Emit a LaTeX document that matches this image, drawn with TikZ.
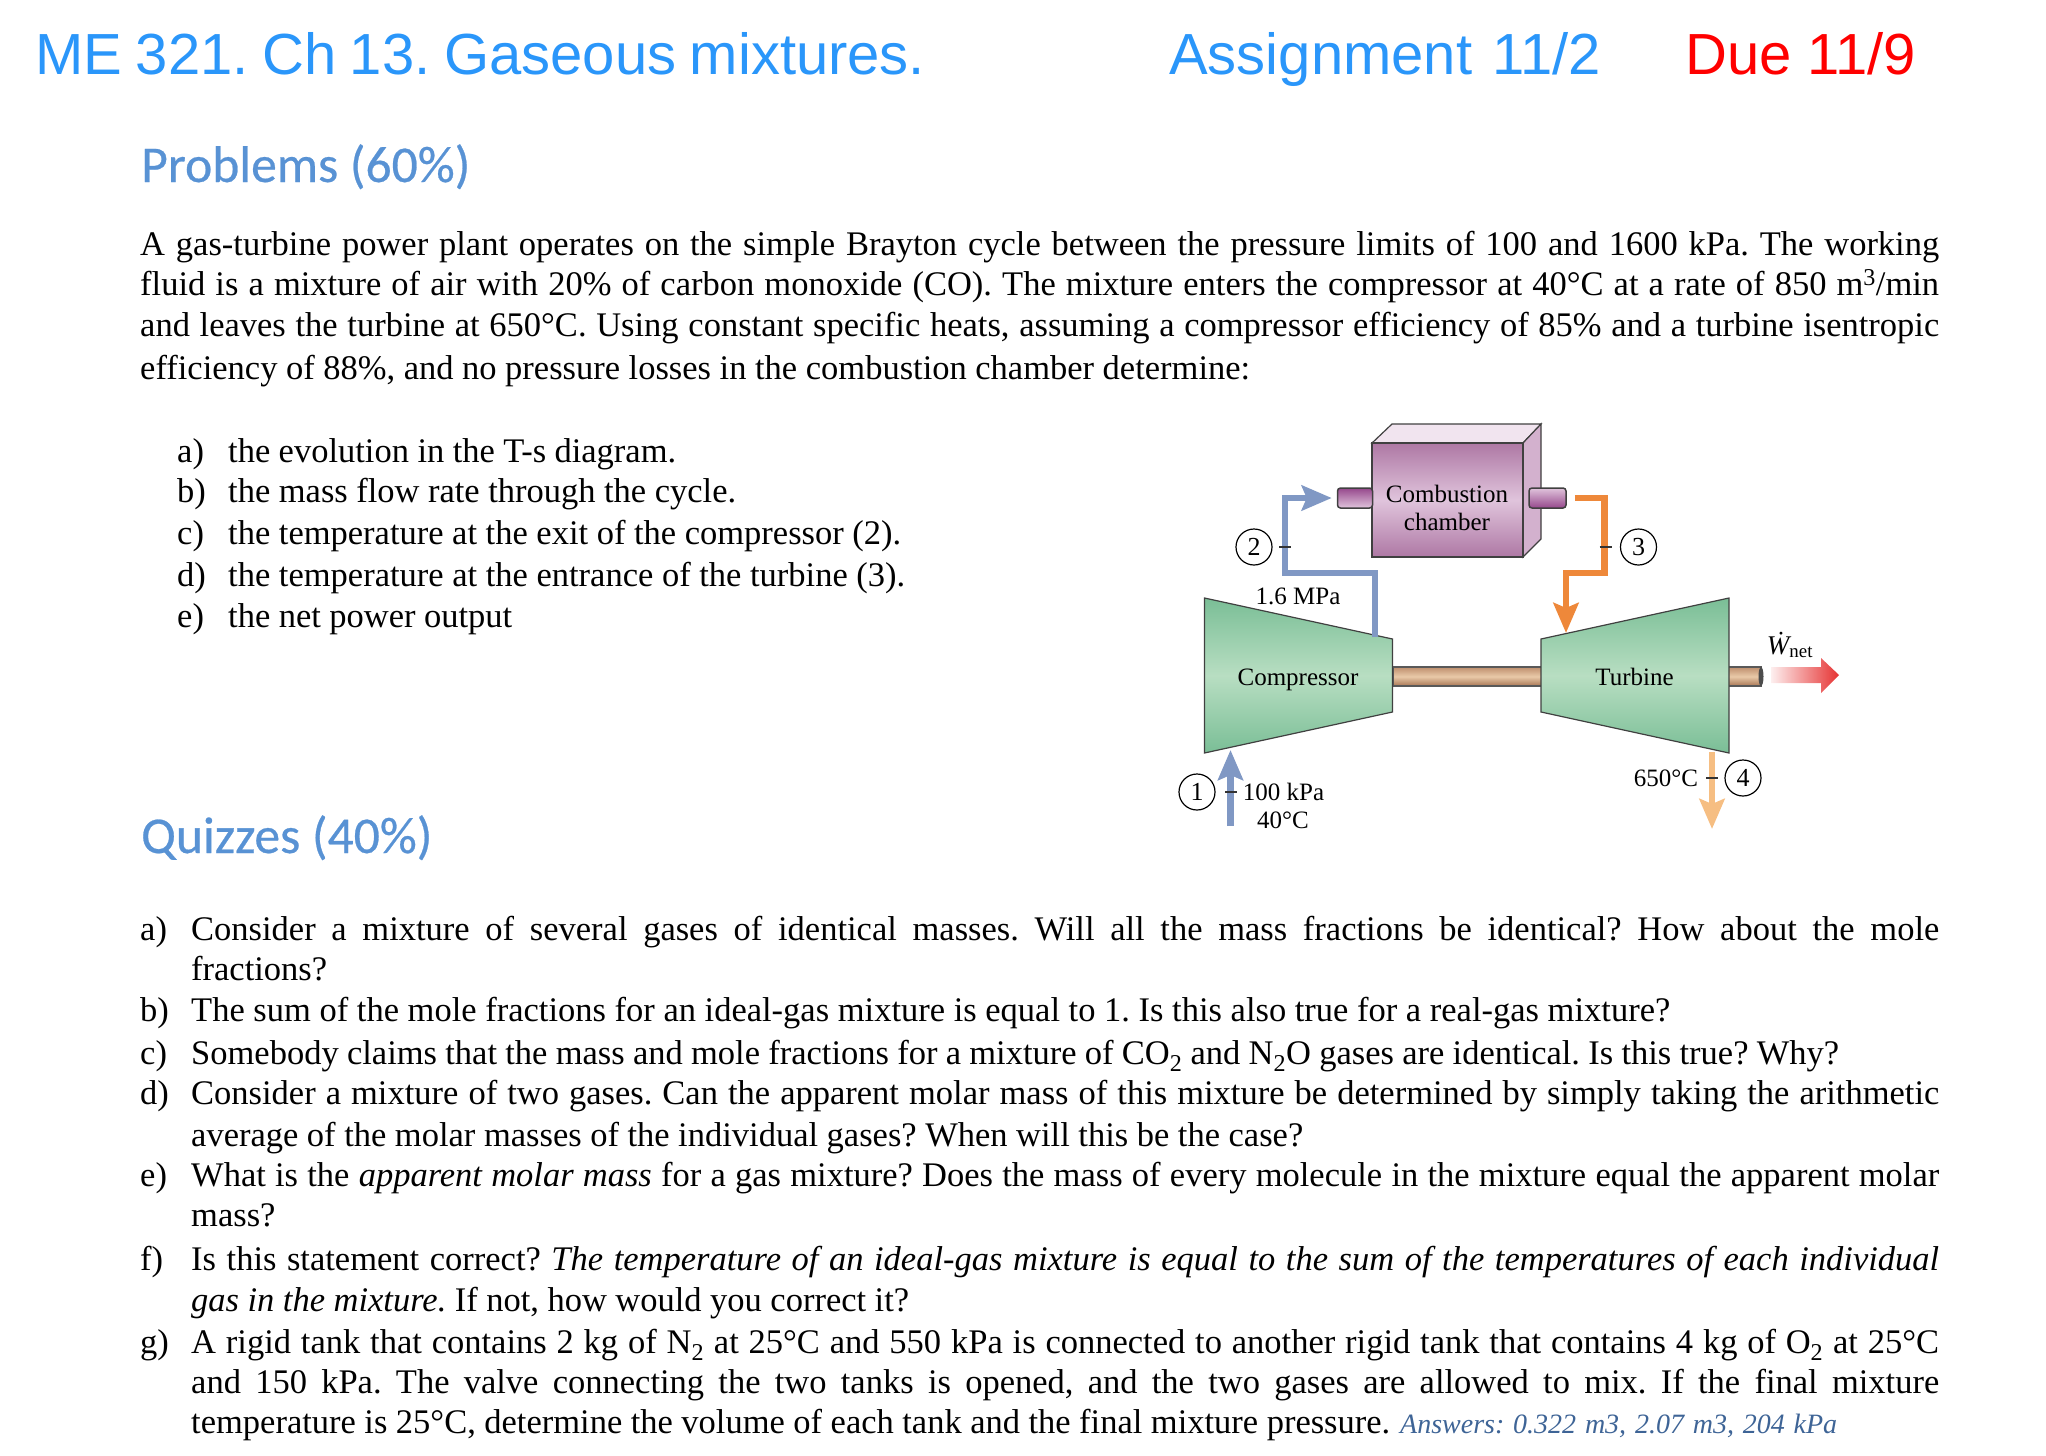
\documentclass[tikz,border=0pt]{standalone}
\usepackage{fontspec}
\setmainfont{Liberation Serif}
\newfontfamily\titlefont{Liberation Sans}
\newfontfamily\headfont[FakeBold=0.5]{Carlito}
\usetikzlibrary{positioning,arrows.meta,calc}
\frenchspacing

\definecolor{titleblue}{RGB}{42,150,250}
\definecolor{headblue}{RGB}{88,146,212}
\definecolor{answerblue}{RGB}{62,100,150}
\definecolor{flowblue}{RGB}{128,152,196}
\definecolor{floworange}{RGB}{238,136,58}
\definecolor{flowpale}{RGB}{246,190,130}
\definecolor{greendark}{RGB}{122,190,150}
\definecolor{greenlight}{RGB}{184,222,194}
\definecolor{plumdark}{RGB}{174,120,164}
\definecolor{plumlight}{RGB}{224,196,220}
\definecolor{plumdeep}{RGB}{150,72,140}
\definecolor{shafttop}{RGB}{190,143,110}
\definecolor{shaftmid}{RGB}{233,201,168}
\definecolor{shaftlow}{RGB}{168,118,84}
\definecolor{powerred}{RGB}{230,50,50}

\newcommand{\fitto}[2]{\makebox[#1pt][s]{#2}}

\tikzset{
  textline/.style={anchor=base west,inner sep=0pt,font=\fontsize{34.5}{34.5}\selectfont},
  titleline/.style={anchor=base west,inner sep=0pt,font=\fontsize{58}{58}\titlefont},
  headline/.style={anchor=base west,inner sep=0pt,text=headblue,font=\fontsize{51.6}{51.6}\headfont},
  partlabel/.style={inner sep=0pt,align=center,font=\fontsize{25}{27.5}\selectfont},
  statenum/.style={draw,circle,minimum size=36pt,inner sep=0pt,line width=1.2pt,font=\fontsize{26}{26}\selectfont},
  machine/.style={draw=black!75,line width=1.2pt,top color=greendark,bottom color=greendark,middle color=greenlight},
  pipeend/.style={draw=black!75,line width=1.5pt,rectangle,rounded corners=3pt,minimum height=20pt,inner sep=0pt},
  bluepipe/.style={draw=flowblue,line width=6.5pt},
  tick/.style={draw=black!80,line width=1.2pt},
  headtip/.style={-{Stealth[width=25pt,length=30pt,inset=5pt]}},
}

\begin{document}
\begin{tikzpicture}[x=1pt,y=-1pt]
\useasboundingbox (0,0) rectangle (2046,1456);

\node[titleline,text=titleblue] (title) at (35,74) {\fitto{890}{ME 321. Ch 13. Gaseous mixtures.}};
\node[titleline,text=titleblue] (assign) at (1169,74) {\fitto{432}{Assignment 11/2}};
\node[titleline,text=red] (due) at (1685,74) {\fitto{231}{Due 11/9}};

\node[headline] (problems) at (141,182) {Problems (60\%)};
\node[textline] (body1) at (140,255) {\fitto{1799}{A gas-turbine power plant operates on the simple Brayton cycle between the pressure limits of 100 and 1600 kPa. The working}};
\node[textline] (body2) at (140,295) {\fitto{1799}{fluid is a mixture of air with 20\% of carbon monoxide (CO). The mixture enters the compressor at 40°C at a rate of 850 m\textsuperscript{3}/min}};
\node[textline] (body3) at (140,336) {\fitto{1799}{and leaves the turbine at 650°C. Using constant specific heats, assuming a compressor efficiency of 85\% and a turbine isentropic}};
\node[textline] (body4) at (140,379) {\fitto{1110}{efficiency of 88\%, and no pressure losses in the combustion chamber determine:}};

\node[textline] (lista) at (177,462) {a)};
\node[textline] (listb) at (177,502.5) {b)};
\node[textline] (listc) at (177,544) {c)};
\node[textline] (listd) at (177,586) {d)};
\node[textline] (liste) at (177,627) {e)};
\node[textline] (lista2) at (228,462) {\fitto{448}{the evolution in the T-s diagram.}};
\node[textline] (listb2) at (228,502.5) {\fitto{508}{the mass flow rate through the cycle.}};
\node[textline] (listc2) at (228,544) {\fitto{673}{the temperature at the exit of the compressor (2).}};
\node[textline] (listd2) at (228,586) {\fitto{677}{the temperature at the entrance of the turbine (3).}};
\node[textline] (liste2) at (228,627) {\fitto{284}{the net power output}};

\node[headline] (quizzes) at (141,853) {Quizzes (40\%)};
\node[textline] (qa) at (140,940) {a)};
\node[textline] (qb) at (140,1021) {b)};
\node[textline] (qc) at (140,1064) {c)};
\node[textline] (qd) at (140,1104) {d)};
\node[textline] (qe) at (140,1186) {e)};
\node[textline] (qf) at (140,1270) {f)};
\node[textline] (qg) at (140,1353) {g)};
\node[textline] (qa1) at (191,940) {\fitto{1748}{Consider a mixture of several gases of identical masses. Will all the mass fractions be identical? How about the mole}};
\node[textline] (qa2) at (191,980.5) {fractions?};
\node[textline] (qb1) at (191,1021) {\fitto{1479}{The sum of the mole fractions for an ideal-gas mixture is equal to 1. Is this also true for a real-gas mixture?}};
\node[textline] (qc1) at (191,1064) {\fitto{1648}{Somebody claims that the mass and mole fractions for a mixture of CO\textsubscript{2} and N\textsubscript{2}O gases are identical. Is this true? Why?}};
\node[textline] (qd1) at (191,1104) {\fitto{1748}{Consider a mixture of two gases. Can the apparent molar mass of this mixture be determined by simply taking the arithmetic}};
\node[textline] (qd2) at (191,1146) {\fitto{1112}{average of the molar masses of the individual gases? When will this be the case?}};
\node[textline] (qe1) at (191,1186) {\fitto{1748}{What is the \textit{apparent molar mass} for a gas mixture? Does the mass of every molecule in the mixture equal the apparent molar}};
\node[textline] (qe2) at (191,1226.5) {mass?};
\node[textline] (qf1) at (191,1270.5) {\fitto{1748}{Is this statement correct? \textit{The temperature of an ideal-gas mixture is equal to the sum of the temperatures of each individual}}};
\node[textline] (qf2) at (191,1311) {\fitto{718}{\textit{gas in the mixture.} If not, how would you correct it?}};
\node[textline] (qg1) at (191,1353) {\fitto{1748}{A rigid tank that contains 2 kg of N\textsubscript{2} at 25°C and 550 kPa is connected to another rigid tank that contains 4 kg of O\textsubscript{2} at 25°C}};
\node[textline] (qg2) at (191,1393) {\fitto{1748}{and 150 kPa. The valve connecting the two tanks is opened, and the two gases are allowed to mix. If the final mixture}};
\node[textline] (qg3) at (191,1433) {\fitto{1199}{temperature is 25°C, determine the volume of each tank and the final mixture pressure.}};
\node[textline,text=answerblue,font=\fontsize{28}{28}\itshape] (answers) at (1400,1433) {\fitto{437}{Answers: 0.322 m3, 2.07 m3, 204 kPa}};

% shaft
\shade[draw=black!65,line width=1.5pt,top color=shafttop,bottom color=shaftlow,middle color=shaftmid] (1393,667) rectangle (1761,686);
\fill[black!70] (1761,676.5) ellipse (2.5 and 9.5);

% compressor and turbine
\shade[machine] (1204.5,598) -- (1392.5,639) -- (1392.5,712) -- (1204.5,753) -- cycle;
\shade[machine] (1541,639) -- (1729,598) -- (1729,753) -- (1541,712) -- cycle;
\node[partlabel] (compressor) at (1298,680) {Compressor};
\node[partlabel] (turbine) at (1634.5,677) {Turbine};

% combustion chamber
\fill[plumlight!45!white,draw=black!75,line width=1.2pt] (1372,443) -- (1392,424) -- (1541,424) -- (1523,443) -- cycle;
\fill[plumlight!75!plumdark,draw=black!75,line width=1.2pt] (1523,443) -- (1541,424) -- (1541,539) -- (1523,557) -- cycle;
\node[draw=black!75,line width=1.5pt,rectangle,minimum width=151pt,minimum height=114pt,top color=plumdark,bottom color=plumdark,middle color=plumlight] (chamber) at (1447.5,500) {};
\node[pipeend,minimum width=35pt,top color=plumdeep,bottom color=plumlight] (pipein) at (1355,498) {};
\node[pipeend,minimum width=37pt,top color=plumlight,bottom color=plumdeep] (pipeout) at (1547.5,498) {};
\node[partlabel] (chamberlabel) at (1447,508) {Combustion\\chamber};

% flow lines
\coordinate (inlet) at (1230.5,826);
\coordinate (compin) at (1230.5,750);
\coordinate (compout) at (1375,637);
\coordinate (bend2) at (1285,573);
\coordinate (bend3) at (1604.5,573);
\coordinate (turbin) at (1566,633);
\coordinate (turbout) at (1712,752);
\coordinate (outlet) at (1712,829);

\draw[bluepipe,headtip] (inlet) -- (compin);
\draw[bluepipe,headtip,shorten >=5pt] (compout) |- (bend2) |- (pipein.west);
\draw[draw=floworange,line width=6.5pt,headtip,shorten <=8pt] (pipeout.east) -| (bend3) -| (turbin);
\draw[draw=flowpale,line width=6.5pt,headtip] (turbout) -- (outlet);

% power arrow
\shade[left color=powerred!8!white,right color=powerred] (1771,667) -- (1821,667) -- (1821,658) -- (1839,675) -- (1821,693) -- (1821,683) -- (1771,683) -- cycle;

% state labels
\node[statenum] (s1) at (1197,792) {1};
\node[statenum] (s2) at (1254,547) {2};
\node[statenum] (s3) at (1638.5,547) {3};
\node[statenum] (s4) at (1743,778) {4};
\coordinate (st1) at (1231,792);
\coordinate (st2) at (1285,547);
\coordinate (st3) at (1605.5,547);
\coordinate (st4) at (1712,778);
\foreach \tk in {st1,st2,st3,st4}
  \draw[tick] (\tk) ++(-6,0) -- ++(12,0);

\node[partlabel] (press2) at (1298,596) {1.6 MPa};
\node[partlabel] (press1) at (1283.5,792) {100 kPa};
\node[partlabel] (temp1) at (1283,820) {40°C};
\node[partlabel] (temp4) at (1666,778) {650°C};
\node[partlabel,font=\fontsize{27}{27}\selectfont] (wnet) at (1790,645) {{\itshape\.W}\textsubscript{net}};

\end{tikzpicture}
\end{document}
